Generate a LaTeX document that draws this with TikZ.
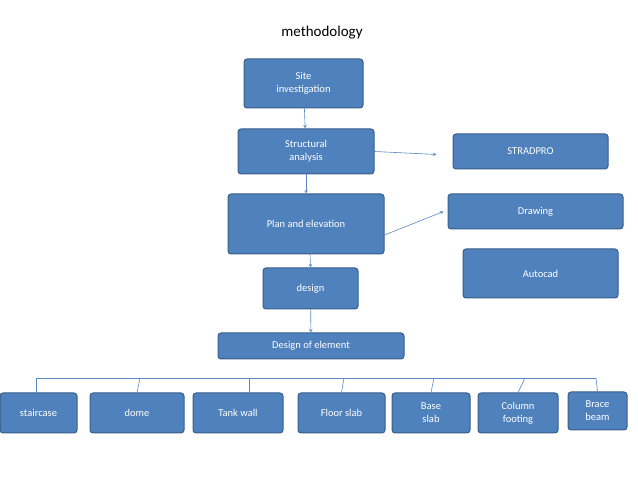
\documentclass[tikz,border=0pt]{standalone}
\usepackage{fontspec}
\setmainfont{Carlito}
\usepackage{xcolor}
\definecolor{boxfill}{HTML}{4F81BD}
\definecolor{boxline}{HTML}{385D8A}
\definecolor{linkcol}{HTML}{5A88C2}

\tikzset{
  stage/.style={draw=boxline, fill=boxfill, rounded corners=3pt, line width=1pt,
    text=white, align=center, font=\fontsize{10.5}{13}\selectfont, inner sep=1pt},
  link/.style={draw=linkcol, line width=0.6pt},
  go/.style={link, ->, >=stealth}
}

\begin{document}
\begin{tikzpicture}[x=1pt, y=-1pt]
  \useasboundingbox (0,0) rectangle (638,478);
  \node[font=\fontsize{15}{18}\selectfont] (title) at (322,33) {methodology};

  \node[stage, minimum width=119pt, minimum height=49pt] (site) at (303.5,83.5) {Site\\investigation};
  \node[stage, minimum width=136pt, minimum height=45pt] (struct) at (306,151.5) {Structural\\analysis};
  \node[stage, minimum width=155pt, minimum height=35pt] (strad) at (530.5,151.5) {STRADPRO};
  \node[stage, minimum width=156pt, minimum height=60pt] (plan) at (306,224) {Plan and elevation};
  \node[stage, minimum width=175pt, minimum height=35pt] (drawing) at (535.5,211.5) {Drawing};
  \node[stage, minimum width=155pt, minimum height=49pt] (cad) at (540.5,273.5) {Autocad};
  \node[stage, minimum width=95pt, minimum height=41pt] (design) at (310.5,288.5) {design};
  \node[stage, minimum width=186pt, minimum height=26pt] (elem) at (311,346) {Design of element};

  % bottom row
  \node[stage, minimum width=77pt, minimum height=40pt] (stair) at (38.5,413) {staircase};
  \node[stage, minimum width=94pt, minimum height=40pt] (dome) at (137,413) {dome};
  \node[stage, minimum width=90pt, minimum height=40pt] (tank) at (238,413) {Tank wall};
  \node[stage, minimum width=87pt, minimum height=40pt] (floor) at (341.5,413) {Floor slab};
  \node[stage, minimum width=78pt, minimum height=40pt] (base) at (431,413) {Base\\slab};
  \node[stage, minimum width=80pt, minimum height=40pt] (col) at (518,413) {Column\\footing};
  \node[stage, minimum width=59pt, minimum height=38pt] (brace) at (597.5,411) {Brace\\beam};

  \draw[go] (site) -- (struct);
  \draw[go] (struct) -- (plan);
  \draw[go] ([xshift=4pt]plan.south) -- (design.north);
  \draw[go] (design) -- (elem);
  \draw[go] (struct.east) -- ([xshift=-16pt, yshift=-3pt]strad.west);
  \draw[go] ([yshift=-11pt]plan.east) -- ([xshift=-4pt]drawing.west);

  \coordinate (barl) at (36,378);
  \coordinate (barr) at (596,378);
  \draw[link] (barl) -- (barr);
  \draw[link] (barl) -- (36,393);
  \draw[link] (140,378) -- (dome.north);
  \draw[link] (249,378) -- (249,393);
  \draw[link] (344,378) -- (floor.north);
  \draw[link] (434,378) -- (base.north);
  \draw[link] (525,378) -- (col.north);
  \draw[link] (barr) -- (brace.north);
\end{tikzpicture}
\end{document}
